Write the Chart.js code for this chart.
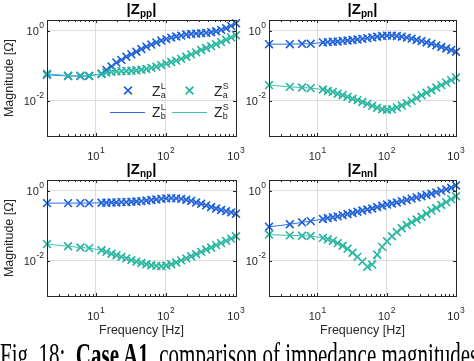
<!DOCTYPE html>
<html><head><meta charset="utf-8">
<script src="https://cdn.jsdelivr.net/npm/chart.js@4.4.0/dist/chart.umd.min.js"></script>
<style>
html,body{margin:0;padding:0;background:#fff;width:474px;height:361px;overflow:hidden;}
canvas{position:absolute;left:0;top:0;}
#cap{position:absolute;left:0;top:339px;font-family:"Liberation Serif","Times New Roman",serif;font-size:21px;line-height:21px;white-space:nowrap;color:#000;transform:scaleY(1.6);transform-origin:0 0;}
</style></head><body>
<canvas id="c0" width="474" height="361"></canvas>
<canvas id="c1" width="474" height="361"></canvas>
<canvas id="c2" width="474" height="361"></canvas>
<canvas id="c3" width="474" height="361"></canvas>
<div id="cap">Fig. 18:&nbsp; <b>Case A1</b> &nbsp;comparison of impedance magnitudes for both</div>
<script>
// ---------- data ----------
const freq = [2,4,6,8,12,14.1,16.7,19.6,23.1,27.2,32.1,37.8,44.5,52.5,61.8,72.8,85.8,101,119,140,165,195,229,270,318,375,442,520,613,722,851,1000];

const ppL = [0.055,0.051,0.051,0.051,0.059,0.076,0.095,0.123,0.147,0.18,0.21,0.25,0.30,0.35,0.40,0.46,0.52,0.57,0.63,0.68,0.72,0.77,0.80,0.82,0.84,0.86,0.90,0.96,1.05,1.17,1.36,1.62];
const ppS = [0.059,0.052,0.052,0.052,0.058,0.064,0.067,0.069,0.070,0.071,0.072,0.074,0.077,0.081,0.087,0.094,0.104,0.115,0.127,0.14,0.157,0.18,0.21,0.24,0.28,0.32,0.36,0.41,0.47,0.55,0.64,0.74];
const pnL = [0.41,0.41,0.42,0.42,0.46,0.47,0.48,0.49,0.51,0.52,0.54,0.56,0.58,0.61,0.64,0.67,0.70,0.72,0.72,0.70,0.67,0.63,0.59,0.54,0.50,0.46,0.42,0.38,0.34,0.31,0.28,0.25];
const pnS = [0.028,0.025,0.024,0.023,0.021,0.019,0.018,0.016,0.0145,0.013,0.0115,0.0105,0.0093,0.0082,0.0072,0.0064,0.0058,0.0056,0.0058,0.0065,0.0074,0.0086,0.010,0.012,0.0145,0.017,0.020,0.024,0.028,0.033,0.039,0.046];
const npL = [0.44,0.44,0.44,0.44,0.45,0.45,0.46,0.46,0.47,0.47,0.48,0.49,0.50,0.52,0.54,0.56,0.58,0.60,0.61,0.60,0.58,0.55,0.51,0.46,0.42,0.38,0.34,0.31,0.28,0.26,0.24,0.22];
const npS = [0.030,0.026,0.024,0.023,0.020,0.018,0.016,0.0145,0.013,0.0118,0.0105,0.0095,0.0087,0.0080,0.0075,0.0072,0.0071,0.0074,0.0080,0.0090,0.0103,0.0118,0.0135,0.0155,0.018,0.021,0.024,0.028,0.032,0.037,0.043,0.050];
const nnL = [0.093,0.11,0.125,0.135,0.155,0.165,0.175,0.185,0.20,0.215,0.23,0.25,0.27,0.29,0.31,0.34,0.37,0.40,0.43,0.46,0.50,0.54,0.59,0.64,0.69,0.75,0.81,0.89,0.98,1.08,1.2,1.4];
const nnS = [0.056,0.053,0.052,0.051,0.045,0.041,0.037,0.032,0.027,0.022,0.017,0.013,0.0095,0.0068,0.0078,0.015,0.025,0.036,0.05,0.066,0.085,0.105,0.125,0.15,0.18,0.22,0.27,0.32,0.39,0.47,0.57,0.69];

const xTickValues = [10, 100, 1000];
const xTickExps = ['1', '2', '3'];
const xMinorTicks = [3,4,5,6,7,8,9,20,30,40,50,60,70,80,90,200,300,400,500,600,700,800,900];
const yTickValues = [1, 0.01];
const yTickExps = ['0', '-2'];
const xRange = [2, 1000];
const yRange = [0.001, 2];

const panelSubs = ['pp', 'pn', 'np', 'nn'];
const xLabel = 'Frequency [Hz]';
const yLabel = 'Magnitude [\u03A9]';
const legendNames = [['Z','a','L'], ['Z','a','S'], ['Z','b','L'], ['Z','b','S']];

// ---------- styles ----------
const FONT = '"Liberation Sans", Arial, Helvetica, sans-serif';
const BLUE = '#1c5fd6', TEAL = '#22b39d';
const BLUE_LINE = '#2f6fe0', TEAL_LINE = '#3cc2ae';
const AX = '#262626', GRID = '#dcdcdc';
const MR = 5.5, MW = 1.6;

const panels = [
  {id:'c0', L:ppL, S:ppS, sub:panelSubs[0], area:{l:47,t:20,r:236,b:136}, ylab:true,  xlab:false, legend:true},
  {id:'c1', L:pnL, S:pnS, sub:panelSubs[1], area:{l:269,t:20,r:456,b:136}, ylab:false, xlab:false, legend:false},
  {id:'c2', L:npL, S:npS, sub:panelSubs[2], area:{l:47,t:180,r:236,b:296}, ylab:true,  xlab:true,  legend:false},
  {id:'c3', L:nnL, S:nnS, sub:panelSubs[3], area:{l:269,t:180,r:456,b:296}, ylab:false, xlab:true,  legend:false}
];

function powLabel(ctx, base, exp, x, y, mode) {
  ctx.textAlign = 'left'; ctx.textBaseline = 'alphabetic';
  ctx.font = '11px ' + FONT; const wb = ctx.measureText(base).width;
  ctx.font = '8.5px ' + FONT; const we = ctx.measureText(exp).width;
  const total = wb + we + 0.5;
  const x0 = mode === 'center' ? x - total / 2 : x - total;
  ctx.font = '11px ' + FONT; ctx.fillText(base, x0, y);
  ctx.font = '8.5px ' + FONT; ctx.fillText(exp, x0 + wb + 0.5, y - 6.7);
}

function drawCross(ctx, x, y, r, color) {
  const d = r * Math.SQRT1_2;
  ctx.save(); ctx.strokeStyle = color; ctx.lineWidth = MW;
  ctx.beginPath();
  ctx.moveTo(x - d, y - d); ctx.lineTo(x + d, y + d);
  ctx.moveTo(x - d, y + d); ctx.lineTo(x + d, y - d);
  ctx.stroke(); ctx.restore();
}

function zText(ctx, parts, x, y) {
  ctx.textAlign = 'left'; ctx.textBaseline = 'alphabetic'; ctx.fillStyle = AX;
  ctx.font = '14px ' + FONT; ctx.fillText(parts[0], x, y);
  const w = ctx.measureText(parts[0]).width;
  ctx.font = '9px ' + FONT;
  ctx.fillText(parts[1], x + w + 0.3, y + 2.2);
  ctx.fillText(parts[2], x + w + 0.3, y - 6.8);
}

function decoPlugin(p) {
  return {
    id: 'deco',
    afterDraw(chart) {
      const ctx = chart.ctx, a = chart.chartArea;
      const xs = chart.scales.x, ys = chart.scales.y;
      ctx.save();
      // box
      ctx.strokeStyle = AX; ctx.lineWidth = 1;
      ctx.strokeRect(Math.round(a.left) + 0.5, Math.round(a.top) + 0.5,
                     Math.round(a.right - a.left), Math.round(a.bottom - a.top));
      // ticks inside
      ctx.beginPath();
      xTickValues.forEach(v => {
        const px = Math.round(xs.getPixelForValue(v)) + 0.5;
        ctx.moveTo(px, a.bottom); ctx.lineTo(px, a.bottom - 3);
        ctx.moveTo(px, a.top); ctx.lineTo(px, a.top + 3);
      });
      xMinorTicks.forEach(v => {
        const px = Math.round(xs.getPixelForValue(v)) + 0.5;
        ctx.moveTo(px, a.bottom); ctx.lineTo(px, a.bottom - 2);
        ctx.moveTo(px, a.top); ctx.lineTo(px, a.top + 2);
      });
      yTickValues.forEach(v => {
        const py = Math.round(ys.getPixelForValue(v)) + 0.5;
        ctx.moveTo(a.left, py); ctx.lineTo(a.left + 3, py);
        ctx.moveTo(a.right, py); ctx.lineTo(a.right - 3, py);
      });
      ctx.stroke();
      // tick labels
      ctx.fillStyle = AX;
      xTickValues.forEach((v, i) => {
        powLabel(ctx, '10', xTickExps[i], xs.getPixelForValue(v), a.bottom + 23.5, 'center');
      });
      yTickValues.forEach((v, i) => {
        powLabel(ctx, '10', yTickExps[i], a.left - 3, ys.getPixelForValue(v) + 4, 'right');
      });
      // title
      const cx = (a.left + a.right) / 2, ty = a.top - 6;
      ctx.fillStyle = '#000';
      ctx.font = 'bold 15px ' + FONT; const w1 = ctx.measureText('|Z').width, w3 = ctx.measureText('|').width;
      ctx.font = 'bold 10px ' + FONT; const w2 = ctx.measureText(p.sub).width;
      const x0 = cx - (w1 + w2 + w3) / 2;
      ctx.font = 'bold 15px ' + FONT; ctx.fillText('|Z', x0, ty);
      ctx.fillText('|', x0 + w1 + w2, ty);
      ctx.font = 'bold 10px ' + FONT; ctx.fillText(p.sub, x0 + w1, ty + 3);
      // axis labels
      ctx.fillStyle = AX;
      if (p.xlab) {
        ctx.font = '12.5px ' + FONT; ctx.textAlign = 'center';
        ctx.fillText(xLabel, cx, 334);
      }
      if (p.ylab) {
        ctx.save();
        ctx.translate(12.5, (a.top + a.bottom) / 2);
        ctx.rotate(-Math.PI / 2);
        ctx.font = '12.5px ' + FONT; ctx.textAlign = 'center';
        ctx.fillText(yLabel, 0, 0);
        ctx.restore();
      }
      // legend
      if (p.legend) {
        drawCross(ctx, 128, 90.5, MR, BLUE);
        zText(ctx, legendNames[0], 152, 95.5);
        drawCross(ctx, 189.5, 90.5, MR, TEAL);
        zText(ctx, legendNames[1], 214, 95.5);
        ctx.lineWidth = 1;
        ctx.strokeStyle = BLUE_LINE;
        ctx.beginPath(); ctx.moveTo(110, 112.5); ctx.lineTo(145, 112.5); ctx.stroke();
        zText(ctx, legendNames[2], 152, 117);
        ctx.strokeStyle = TEAL_LINE;
        ctx.beginPath(); ctx.moveTo(172, 112.5); ctx.lineTo(207, 112.5); ctx.stroke();
        zText(ctx, legendNames[3], 214, 117);
      }
      ctx.restore();
    }
  };
}

const pts = arr => freq.map((f, i) => ({x: f, y: arr[i]}));

panels.forEach(p => {
  new Chart(document.getElementById(p.id), {
    type: 'line',
    data: {
      datasets: [
        {label: 'Zb S', data: pts(p.S), borderColor: TEAL_LINE, borderWidth: 1, pointRadius: 0, fill: false, tension: 0, clip: false},
        {label: 'Zb L', data: pts(p.L), borderColor: BLUE_LINE, borderWidth: 1, pointRadius: 0, fill: false, tension: 0, clip: false},
        {label: 'Za S', data: pts(p.S), showLine: false, pointStyle: 'crossRot', pointRadius: MR, pointBorderWidth: MW,
         pointBorderColor: TEAL, borderColor: TEAL, backgroundColor: TEAL, clip: false},
        {label: 'Za L', data: pts(p.L), showLine: false, pointStyle: 'crossRot', pointRadius: MR, pointBorderWidth: MW,
         pointBorderColor: BLUE, borderColor: BLUE, backgroundColor: BLUE, clip: false}
      ]
    },
    options: {
      responsive: false, animation: false, devicePixelRatio: 1, events: [],
      layout: {padding: {left: p.area.l, top: p.area.t, right: 474 - p.area.r, bottom: 361 - p.area.b}},
      plugins: {legend: {display: false}, tooltip: {enabled: false}, title: {display: false}},
      scales: {
        x: {
          type: 'logarithmic', min: xRange[0], max: xRange[1],
          afterFit: s => { s.height = 0; },
          afterBuildTicks: s => { s.ticks = xTickValues.map(v => ({value: v})); },
          ticks: {display: false},
          grid: {color: GRID, lineWidth: 1, drawTicks: false},
          border: {display: false}
        },
        y: {
          type: 'logarithmic', min: yRange[0], max: yRange[1],
          afterFit: s => { s.width = 0; },
          afterBuildTicks: s => { s.ticks = yTickValues.map(v => ({value: v})); },
          ticks: {display: false},
          grid: {color: GRID, lineWidth: 1, drawTicks: false},
          border: {display: false}
        }
      }
    },
    plugins: [decoPlugin(p)]
  });
});
</script>
</body></html>
